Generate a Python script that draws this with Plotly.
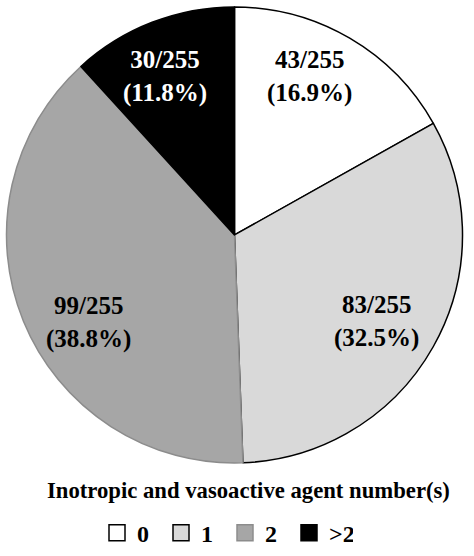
import math

import plotly.graph_objects as go

categories = ["0", "1", "2", ">2"]
counts = [43, 83, 99, 30]
total = 255

fill_colors = ["#ffffff", "#d9d9d9", "#a6a6a6", "#000000"]
line_colors = ["#000000", "#000000", "#8c8c8c", "#000000"]
text_colors = ["#000000", "#000000", "#000000", "#ffffff"]

# label placement: angle clockwise from 12 o'clock (deg), fraction of radius
label_angles = [25.2, 121.6, 238.8, 336.6]
label_radii = [0.768, 0.724, 0.739, 0.757]

SERIF = "Liberation Serif, Times New Roman, serif"
W, H = 474, 556

# pie box in pixels (left, right, top, bottom)
px_left, px_right, px_top, px_bottom = 3, 466, 7, 468
cx = (px_left + px_right) / 2
cy = (px_top + px_bottom) / 2
radius = min(px_right - px_left, px_bottom - px_top) / 2

fig = go.Figure()

fig.add_trace(
    go.Pie(
        labels=categories,
        values=counts,
        sort=False,
        direction="clockwise",
        rotation=0,
        marker=dict(colors=fill_colors, line=dict(color=line_colors, width=1.5)),
        textinfo="none",
        hoverinfo="label+value+percent",
        showlegend=False,
        domain=dict(
            x=[px_left / W, px_right / W],
            y=[1 - px_bottom / H, 1 - px_top / H],
        ),
    )
)

# legend entries with larger square swatches than the pie legend gives
for cat, fc, lc in zip(categories, fill_colors, line_colors):
    fig.add_trace(
        go.Scatter(
            x=[None],
            y=[None],
            mode="markers",
            name=cat,
            marker=dict(symbol="square", size=16, color=fc, line=dict(color=lc, width=1.5)),
            hoverinfo="skip",
        )
    )

for n, ang, rf, col in zip(counts, label_angles, label_radii, text_colors):
    a = math.radians(ang)
    lx = cx + rf * radius * math.sin(a)
    ly = cy - rf * radius * math.cos(a)
    fig.add_annotation(
        text=f"{n}/{total}<br>({n / total * 100:.1f}%)",
        x=lx / W,
        y=1 - ly / H,
        xref="paper",
        yref="paper",
        xanchor="center",
        yanchor="middle",
        showarrow=False,
        font=dict(family=SERIF, size=25, color=col, weight="bold"),
    )

fig.add_annotation(
    text="Inotropic and vasoactive agent number(s)",
    x=248 / W,
    y=1 - 496 / H,
    xref="paper",
    yref="paper",
    xanchor="center",
    yanchor="middle",
    showarrow=False,
    font=dict(family=SERIF, size=22.7, color="#000000", weight="bold"),
)

fig.update_layout(
    width=W,
    height=H,
    margin=dict(l=0, r=0, t=0, b=0),
    paper_bgcolor="white",
    plot_bgcolor="white",
    showlegend=True,
    xaxis=dict(visible=False),
    yaxis=dict(visible=False),
    legend=dict(
        orientation="h",
        x=225 / W,
        xanchor="center",
        y=1 - 539 / H,
        yanchor="middle",
        font=dict(family=SERIF, size=24, color="#000000", weight="bold"),
        itemwidth=30,
        entrywidth=19,
        traceorder="normal",
    ),
)

fig.write_html(
    "out.html",
    config={"displayModeBar": False},
    post_script="document.body.style.margin='0px';",
)
